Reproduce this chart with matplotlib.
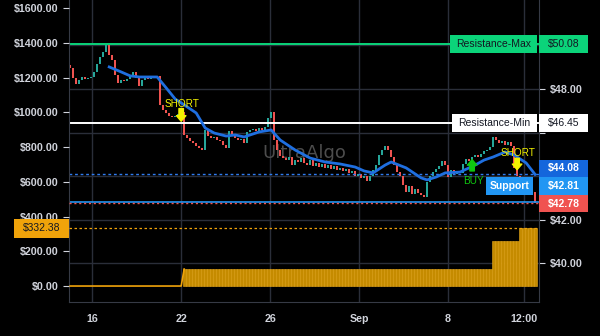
import numpy as np
import matplotlib.pyplot as plt
from matplotlib.patches import Rectangle

# candle closes, one per bar (open = previous close)
closes = [
    48.96, 48.50, 48.23, 48.41, 48.55, 48.46, 48.50, 48.55, 48.78, 49.15,
    49.47, 49.70, 50.02, 49.56, 49.33, 48.64, 48.28, 48.41, 48.37, 48.46,
    48.55, 48.78, 48.50, 48.14, 48.41, 48.50, 48.46, 48.60, 48.50, 48.60,
    47.27, 47.04, 46.90, 46.76, 46.72, 46.76, 46.85, 46.94, 45.89, 45.75,
    45.61, 45.52, 45.39, 45.29, 45.20, 46.12, 45.84, 45.75, 45.80, 45.66,
    45.61, 45.43, 45.29, 46.07, 45.84, 45.75, 45.66, 45.70, 45.52, 46.03,
    46.12, 46.17, 46.07, 46.21, 46.12, 46.26, 46.67, 46.94, 45.66, 45.20,
    44.93, 44.83, 44.74, 44.88, 44.51, 44.74, 44.65, 44.83, 44.61, 44.51,
    44.74, 44.47, 44.61, 44.42, 44.56, 44.38, 44.51, 44.33, 44.47, 44.28,
    44.38, 44.24, 44.33, 44.15, 44.24, 44.01, 44.10, 43.92, 44.01, 43.78,
    44.01, 44.28, 44.51, 44.97, 45.20, 45.39, 45.20, 44.88, 44.51, 44.19,
    44.01, 43.60, 43.28, 43.55, 43.19, 43.41, 43.23, 43.14, 43.05, 43.73,
    44.01, 44.19, 44.33, 44.47, 44.70, 44.51, 43.96, 44.28, 44.10, 44.24,
    44.15, 44.56, 44.79, 44.70, 44.88, 44.97, 44.88, 45.02, 45.16, 45.20,
    45.34, 45.80, 45.66, 45.52, 45.61, 45.43, 45.57, 45.39, 44.38, 44.01,
    43.83, 43.96, 43.92, 43.64, 43.28, 42.78,
]
first_open = 49.10

# moving average (bar index, value)
ma_idx = [13, 17, 20, 23, 29, 32, 35, 38, 42, 45, 48, 52, 55, 58, 63, 67, 70, 75, 80, 85,
          90, 95, 98, 101, 105, 107, 112, 117, 119, 122, 125, 130, 135, 138, 141, 145,
          148, 152, 155]
ma_vals = [49.01, 48.78, 48.60, 48.55, 48.55, 48.05, 47.54, 47.27, 46.90, 46.21, 45.98,
           45.84, 45.89, 45.80, 46.03, 46.12, 45.66, 45.20, 44.83, 44.65, 44.56, 44.42,
           44.24, 44.15, 44.51, 44.65, 44.38, 43.92, 43.83, 43.96, 44.15, 44.19, 44.51,
           44.74, 44.88, 45.11, 44.97, 44.61, 44.08]

res_max = 50.08
res_min = 46.45
ma_last = 44.08
support = 42.81
last_close = 42.78

# strategy equity: value from a given bar onwards
eq_step_bar = [0, 38, 141, 150]
eq_step_val = [0.0, 98.0, 262.0, 332.38]
eq_last = 332.38

date_labels = ['16', '22', '26', 'Sep', '8', '12:00']
date_pos = [7.3, 37, 66.7, 96.3, 126, 151.3]

price_ticks = [40, 42, 44, 46, 48, 50]
price_shown = [40, 42, 48]  # the rest sit under the value tags
eq_ticks = [0, 200, 400, 600, 800, 1000, 1200, 1400, 1600]

BG = '#000000'
TXT = '#d1d4dc'
GRID = '#2a2e39'
UP, DOWN = '#26a69a', '#ef5350'
FONT = 'Liberation Sans'

n = len(closes)
idx = np.arange(n)
c = np.array(closes)
o = np.concatenate([[first_open], c[:-1]])

eq = np.zeros(n)
for b, v in zip(eq_step_bar, eq_step_val):
    eq[b:] = v

fig = plt.figure(figsize=(6, 3.36), dpi=100, facecolor=BG)
AX_X0, AX_W, AX_H = 69, 470, 302
ax = fig.add_axes([AX_X0 / 600, 34 / 336, AX_W / 600, AX_H / 336])
ax.set_facecolor(BG)
ax.set_xlim(-0.4, 156.3)
ax.set_ylim(38.23, 52.08)
ax.set_axisbelow(True)

ax_eq = ax.twinx()
ax_eq.set_ylim(-92, 1648)
ax_eq.yaxis.tick_left()
ax.yaxis.tick_right()

# grid + axes styling
ax.set_yticks(price_ticks)
ax.set_yticklabels(['${:.2f}'.format(v) if v in price_shown else '' for v in price_ticks])
ax.set_xticks(date_pos)
ax.set_xticklabels(date_labels)
ax.grid(True, color=GRID, lw=1)
ax_eq.set_yticks(eq_ticks)
ax_eq.set_yticklabels(['${:.2f}'.format(v) for v in eq_ticks])
for a in (ax, ax_eq):
    a.tick_params(colors=TXT, length=4, width=0.8, labelsize=7.7)
    for lab in a.get_xticklabels() + a.get_yticklabels():
        lab.set_fontfamily(FONT)
        lab.set_fontweight('bold')
ax.tick_params(axis='x', length=0, pad=9)
for s in ax.spines.values():
    s.set_color('#363a45')
ax.spines['top'].set_visible(False)
for s in ax_eq.spines.values():
    s.set_visible(False)

# watermark
ax.text(0.5, 0.495, 'UltraAlgo', transform=ax.transAxes, ha='center', va='center',
        fontsize=13, color='#4d4d4d', zorder=1)

# candles
colors = np.where(c >= o, UP, DOWN)
bottom = np.minimum(o, c)
height = np.maximum(np.abs(c - o), 0.05)
ax.bar(idx, height, bottom=bottom, width=0.55, color=colors, zorder=2)

# moving average
ax.plot(ma_idx, ma_vals, color='#1f6fe0', lw=2, zorder=3)

# levels
ax.axhline(res_max, color='#0bd47a', lw=1.4, zorder=2.5)
ax.axhline(res_min, color='white', lw=1.4, zorder=2.5)
ax.axhline(ma_last, color='#2f7bf0', lw=1, ls=(0, (2, 2)), zorder=2.5)
ax.axhline(support, color='#2196f3', lw=1.2, zorder=2.5)
ax.axhline(last_close, color='#f05350', lw=1, ls=(0, (1.5, 2)), zorder=2.6)

# equity
on = eq > 0
ax_eq.bar(idx[on], eq[on], width=1.0, color='#c58b00', edgecolor='#e8a91c', lw=0.4, zorder=2)
ax_eq.plot(idx[:eq_step_bar[1] + 1], eq[:eq_step_bar[1] + 1], color='#f0a30a', lw=1.2, zorder=2)
ax_eq.axhline(eq_last, color='#f0a30a', lw=0.9, ls=(0, (2, 2)), zorder=2)

# trade signals
def signal(bar, text, col, text_y, tail, tip):
    ax.text(bar + 0.3, text_y, text, color=col, fontsize=7.2, ha='center', va='center',
            fontfamily=FONT, zorder=4)
    ax.annotate('', xy=(bar, tip), xytext=(bar, tail), zorder=4,
                arrowprops=dict(arrowstyle='simple,head_length=0.5,head_width=0.85,tail_width=0.4',
                                fc=col, ec=col, mutation_scale=8, shrinkA=0, shrinkB=0))

signal(37, 'SHORT', '#f2f200', 47.31, 47.10, 46.52)
signal(149, 'SHORT', '#f2f200', 45.06, 44.82, 44.30)
signal(134, 'BUY', '#10c810', 43.80, 44.24, 44.76)

# price / equity tags
def tag(a, value, text, fc, tc, x0, x1, dy=0, h=18, weight='bold'):
    lo, hi = a.get_ylim()
    yc = (value - lo) / (hi - lo) + dy / AX_H
    fx0 = (x0 - AX_X0) / AX_W
    fx1 = (x1 - AX_X0) / AX_W
    a.add_patch(Rectangle((fx0, yc - h / AX_H / 2), fx1 - fx0, h / AX_H, transform=a.transAxes,
                          fc=fc, ec='none', clip_on=False, zorder=5))
    a.text((fx0 + fx1) / 2, yc, text, transform=a.transAxes, ha='center', va='center',
           color=tc, fontsize=7.5, fontweight=weight, fontfamily=FONT, clip_on=False, zorder=6)

tag(ax, res_max, 'Resistance-Max', '#0bd47a', '#131722', 450, 537, weight='normal')
tag(ax, res_max, '${:.2f}'.format(res_max), '#0bd47a', '#131722', 539, 588, weight='normal')
tag(ax, res_min, 'Resistance-Min', 'white', '#131722', 452, 537, weight='normal')
tag(ax, res_min, '${:.2f}'.format(res_min), 'white', '#131722', 539, 588, weight='normal')
tag(ax, ma_last, '${:.2f}'.format(ma_last), '#1466dc', 'white', 539, 588, dy=6, h=17)
tag(ax, support, 'Support', '#2196f3', 'white', 486, 533, dy=16, h=18)
tag(ax, support, '${:.2f}'.format(support), '#2196f3', 'white', 539, 588, dy=16, h=18)
tag(ax, last_close, '${:.2f}'.format(last_close), '#f05350', 'white', 539, 588, dy=-1, h=17)
tag(ax_eq, eq_last, '${:.2f}'.format(eq_last), '#f0a30a', '#131722', 14, 69, h=19, weight='normal')

fig.savefig('out.png', dpi=100, facecolor=BG)
